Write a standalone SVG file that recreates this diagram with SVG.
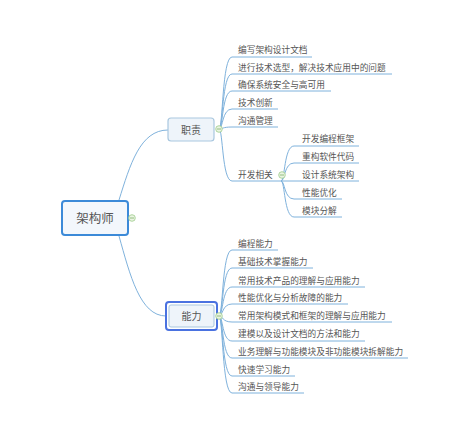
<svg xmlns="http://www.w3.org/2000/svg" width="474" height="437" viewBox="0 0 474 437">
<style>
.t{font-family:"Noto Sans CJK SC","Noto Sans",sans-serif;font-size:8.7px;fill:#555}
.tb{font-family:"Noto Sans CJK SC","Noto Sans",sans-serif;fill:#555;text-anchor:middle}
.c{fill:none;stroke:#7fb2dc;stroke-width:1}
.tog{fill:#eaf4e2;stroke:#9ccb8a;stroke-width:0.8}
.tm{stroke:#7fb06a;stroke-width:0.8}
</style>
<rect width="474" height="437" fill="#fff"/>
<g id="connectors">
<path class="c" d="M119,200 C130,165 140,130 168,130"/>
<path class="c" d="M119,236 C130,275 140,316 166,316"/>
<path class="c" d="M219,129 C223,129 222,57 232,57 L312,57"/>
<path class="c" d="M219,129 C223,129 222,74 232,74 L392,74"/>
<path class="c" d="M219,129 C223,129 222,91 232,91 L331,91"/>
<path class="c" d="M219,129 C223,129 222,109 232,109 L278,109"/>
<path class="c" d="M219,129 C223,129 222,127 232,127 L278,127"/>
<path class="c" d="M219,129 C223,129 222,181 232,181 L281,181"/>
<path class="c" d="M281,181 C285,181 284,146 294,146 L359,146"/>
<path class="c" d="M281,181 C285,181 284,163 294,163 L359,163"/>
<path class="c" d="M281,181 L359,181"/>
<path class="c" d="M281,181 C285,181 284,199 294,199 L342,199"/>
<path class="c" d="M281,181 C285,181 284,217 294,217 L342,217"/>
<path class="c" d="M219,316 C223,316 222,250 232,250 L278,250"/>
<path class="c" d="M219,316 C223,316 222,268 232,268 L313,268"/>
<path class="c" d="M219,316 C223,316 222,287 232,287 L365,287"/>
<path class="c" d="M219,316 C223,316 222,304 232,304 L348,304"/>
<path class="c" d="M219,316 C223,316 222,322 232,322 L392,322"/>
<path class="c" d="M219,316 C223,316 222,341 232,341 L365,341"/>
<path class="c" d="M219,316 C223,316 222,358 232,358 L408,358"/>
<path class="c" d="M219,316 C223,316 222,376 232,376 L295,376"/>
<path class="c" d="M219,316 C223,316 222,393 232,393 L304,393"/>
</g>
<g id="root">
<rect x="62" y="201" width="66" height="34" rx="3" fill="#f3f7fc" stroke="#3c8ad8" stroke-width="2"/>
<text class="tb" x="95" y="223" font-size="12.5">架构师</text>
<circle class="tog" cx="132" cy="218" r="3.3"/><line class="tm" x1="130" y1="218" x2="134" y2="218"/>
</g>
<g id="zhize">
<rect x="168" y="118" width="46" height="23" rx="3" fill="#eef4fa" stroke="#a9c7df" stroke-width="1.2"/>
<text class="tb" x="191" y="134" font-size="10">职责</text>
<circle class="tog" cx="219" cy="129" r="3.3"/><line class="tm" x1="217" y1="129" x2="221" y2="129"/>
</g>
<g id="nengli">
<rect x="166" y="302" width="51" height="28" rx="3" fill="none" stroke="#4a72e0" stroke-width="2"/>
<rect x="169" y="305" width="45" height="22" rx="2" fill="#eef4fa" stroke="#a9c7df" stroke-width="1"/>
<text class="tb" x="191.5" y="320" font-size="10">能力</text>
<circle class="tog" cx="219" cy="316" r="3.3"/><line class="tm" x1="217" y1="316" x2="221" y2="316"/>
</g>
<g id="zz1"><text class="t" x="238" y="53">编写架构设计文档</text></g>
<g id="zz2"><text class="t" x="238" y="71">进行技术选型，解决技术应用中的问题</text></g>
<g id="zz3"><text class="t" x="238" y="88">确保系统安全与高可用</text></g>
<g id="zz4"><text class="t" x="238" y="106">技术创新</text></g>
<g id="zz5"><text class="t" x="238" y="124">沟通管理</text></g>
<g id="kaifa"><text class="t" x="238" y="178">开发相关</text>
<circle class="tog" cx="282" cy="175" r="3.3"/><line class="tm" x1="280" y1="175" x2="284" y2="175"/></g>
<g id="kf1"><text class="t" x="302" y="142">开发编程框架</text></g>
<g id="kf2"><text class="t" x="302" y="160">重构软件代码</text></g>
<g id="kf3"><text class="t" x="302" y="178">设计系统架构</text></g>
<g id="kf4"><text class="t" x="302" y="196">性能优化</text></g>
<g id="kf5"><text class="t" x="302" y="214">模块分解</text></g>
<g id="nl1"><text class="t" x="238" y="247">编程能力</text></g>
<g id="nl2"><text class="t" x="238" y="265">基础技术掌握能力</text></g>
<g id="nl3"><text class="t" x="238" y="283.5">常用技术产品的理解与应用能力</text></g>
<g id="nl4"><text class="t" x="238" y="301">性能优化与分析故障的能力</text></g>
<g id="nl5"><text class="t" x="238" y="318.5">常用架构模式和框架的理解与应用能力</text></g>
<g id="nl6"><text class="t" x="238" y="337">建模以及设计文档的方法和能力</text></g>
<g id="nl7"><text class="t" x="238" y="354.5">业务理解与功能模块及非功能模块拆解能力</text></g>
<g id="nl8"><text class="t" x="238" y="372.5">快速学习能力</text></g>
<g id="nl9"><text class="t" x="238" y="390">沟通与领导能力</text></g>
</svg>
